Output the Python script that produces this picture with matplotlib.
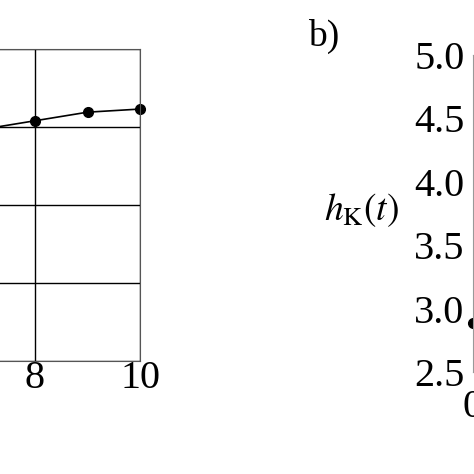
import matplotlib
matplotlib.use("Agg")
import matplotlib.pyplot as plt

# panel a (only right part visible)
t_a = [7, 8, 9, 10]
h_a = [2.97, 3.08, 3.19, 3.23]
a_xticks = [0, 2, 4, 6, 8, 10]

# panel b (only y axis visible)
t_b = [0]
h_b = [2.89]
b_yticks = [2.5, 3.0, 3.5, 4.0, 4.5, 5.0]

plt.rcParams["font.family"] = ["Liberation Serif", "DejaVu Serif"]
plt.rcParams["mathtext.fontset"] = "stix"

W = 474
fig = plt.figure(figsize=(4.74, 4.74), dpi=100)

def box(l, t, r, b):
    return [l / W, (W - b) / W, (r - l) / W, (b - t) / W]

ax = fig.add_axes(box(-385, 49, 140, 361))
ax.plot(t_a, h_a, "-", color="black", lw=1.2, marker="o", ms=7, clip_on=False)
ax.set_xlim(0, 10)
ax.set_ylim(0, 4)
ax.set_xticks(a_xticks)
ax.set_yticks([0, 1, 2, 3, 4])
ax.set_yticklabels([])
ax.grid(True, color="black", lw=1.0)
ax.tick_params(length=0, labelsize=29, pad=-1)
for s in ax.spines.values():
    s.set_color("#555555")

bx = fig.add_axes(box(473, 55, 700, 372))
bx.plot(t_b, h_b, "o", color="black", ms=7, clip_on=False)
bx.set_xlim(0, 10)
bx.set_ylim(2.5, 5.0)
bx.set_yticks(b_yticks)
bx.set_yticklabels([f"{v:.1f}" for v in b_yticks])
bx.set_xticks([0])
bx.tick_params(axis="y", length=0, labelsize=29, pad=6)
bx.tick_params(axis="x", length=0, labelsize=29, pad=12)
for s in bx.spines.values():
    s.set_color("#999999")
bx.set_ylabel(r"$h_{\mathrm{K}}(t)$", fontsize=27, rotation=0, labelpad=5, va="center")
bx.yaxis.set_label_coords((362 - 473) / 227, 0.51)
fig.text(308 / W, 1 - 36 / W, "b)", fontsize=27, va="center")

fig.savefig("out.png", dpi=100)
